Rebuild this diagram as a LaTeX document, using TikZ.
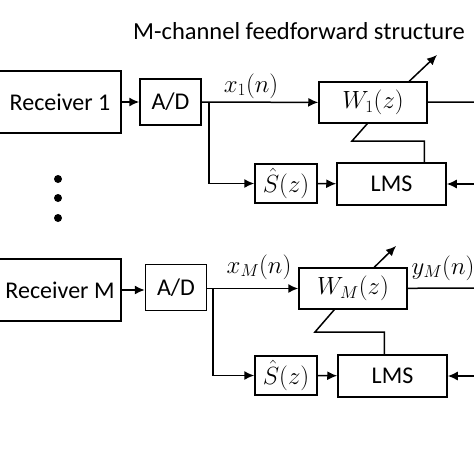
\documentclass[tikz,border=0pt]{standalone}
\usepackage{fontspec}
\setmainfont{Carlito}
\usetikzlibrary{arrows.meta,calc}
\tikzset{
  blk/.style={draw,fill=white,line width=1.5pt,inner sep=0pt,font=\fontsize{24}{28}\selectfont},
  rxbox/.style={blk,minimum width=122pt,minimum height=62pt},
  adbox/.style={blk,minimum width=61pt,minimum height=46pt},
  wbox/.style={blk,minimum width=108pt,minimum height=41pt},
  shbox/.style={blk,minimum width=62pt,minimum height=39pt},
  lmsbox/.style={blk,minimum width=109pt,minimum height=42pt},
  sig/.style={inner sep=0pt,font=\fontsize{27}{30}\selectfont},
}
\begin{document}
\begin{tikzpicture}[x=1pt,y=-1pt,>={Latex[length=10pt,width=9pt]},line width=1.5pt]
  \clip (0,0) rectangle (474,474);
  \node[font=\fontsize{24.5}{28}\selectfont] (title) at (299,31) {M-channel feedforward structure};
  % channel 1
  \node[rxbox] (rx1) at (60,102) {Receiver 1};
  \node[adbox] (ad1) at (170.5,102) {A/D};
  \node[wbox] (w1) at (373,102.5) {\fontsize{27}{30}\selectfont$W_1(z)$};
  \node[shbox] (sh1) at (286,183.5) {\fontsize{27}{30}\selectfont$\hat{S}(z)$};
  \node[lmsbox] (lms1) at (391.5,184) {LMS};
  \node[sig] (x1) at (251,86) {$x_1(n)$};
  \coordinate (b1) at (209,102);
  \coordinate (out1) at (480,102);
  \coordinate (err1) at (480,184);
  \coordinate (up1) at (437,55);
  \draw[->] (rx1) -- (ad1);
  \draw[->] (ad1) -- (w1);
  \draw[->] (b1) |- (sh1);
  \draw[->] (sh1) -- (lms1);
  \draw[->] (err1) -- (lms1);
  \draw (w1) -- (out1);
  \draw ($(lms1.north west)+(88,0)$) |- (352,141) -- ($(w1.south west)+(49,0)$);
  \draw[->] ($(w1.north west)+(91,0)$) -- (up1);
  % dots
  \foreach \y in {179,198,218}
    \fill (58,\y) circle (4);
  % channel M
  \node[rxbox] (rxM) at (60,290) {Receiver M};
  \node[adbox] (adM) at (176,287.5) {A/D};
  \node[wbox] (wM) at (353,288.5) {\fontsize{27}{30}\selectfont$W_M(z)$};
  \node[shbox] (shM) at (286,375.5) {\fontsize{27}{30}\selectfont$\hat{S}(z)$};
  \node[lmsbox] (lmsM) at (392.5,376) {LMS};
  \node[sig] (xM) at (259,267) {$x_M(n)$};
  \node[sig] (yM) at (443,268) {$y_M(n)$};
  \coordinate (bM) at (213,288);
  \coordinate (outM) at (480,288);
  \coordinate (errM) at (480,376);
  \coordinate (upM) at (396,246);
  \draw[->] (rxM) -- (adM.west |- rxM);
  \draw[->] (adM.east |- wM) -- (wM);
  \draw[->] (bM) |- (shM);
  \draw[->] (shM) -- (lmsM);
  \draw[->] (errM) -- (lmsM);
  \draw (wM) -- (outM);
  \draw ($(lmsM.north west)+(47,0)$) |- (315,332) -- ($(wM.south west)+(36,0)$);
  \draw[->] ($(wM.north west)+(76,0)$) -- (upM);
\end{tikzpicture}
\end{document}
